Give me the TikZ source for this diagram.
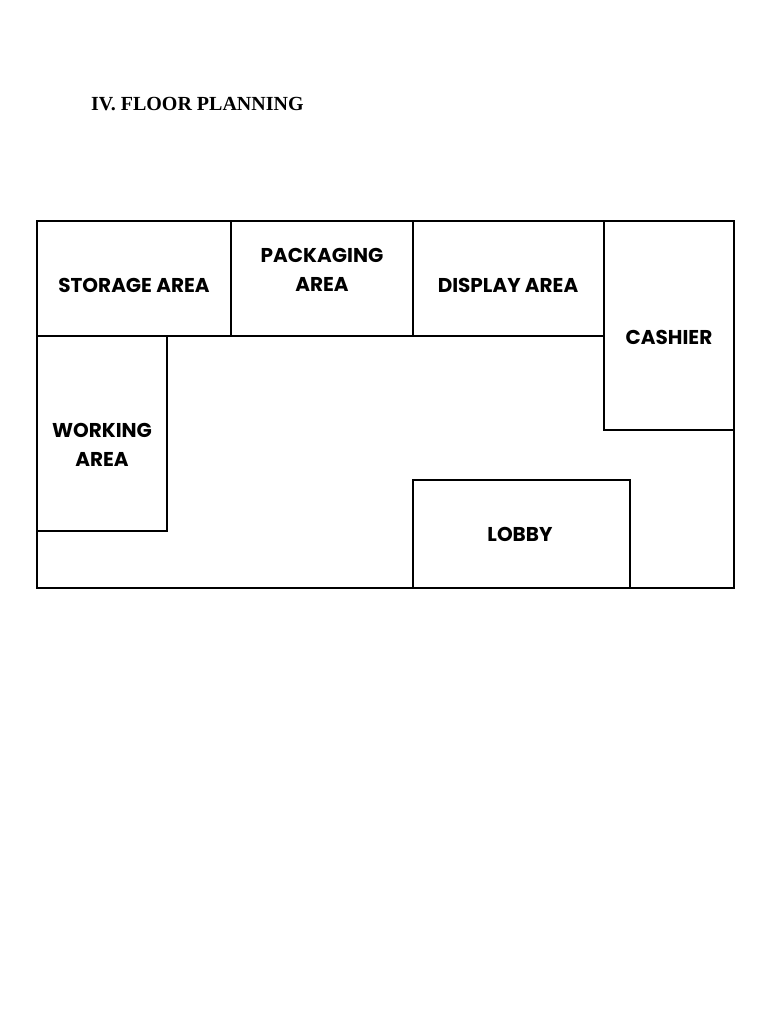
\documentclass[tikz,border=0pt]{standalone}
\usepackage{fontspec}
\setmainfont{Liberation Serif}
\newfontfamily\labfont{Poppins}
\begin{document}
\begin{tikzpicture}[x=1pt,y=-1pt,
  wall/.style={draw=black,line width=2pt},
  lab/.style={font=\labfont\bfseries\fontsize{20}{29}\selectfont,align=center,inner sep=0pt}]
\useasboundingbox (0,0) rectangle (768,1024);
\node[anchor=west,font=\bfseries\fontsize{20}{22}\selectfont,inner sep=0pt] (title) at (91,104) {IV. FLOOR PLANNING};
\draw[wall] (37,221) rectangle (734,588);
\draw[wall] (37,336) -- (604,336);
\draw[wall] (231,221) -- (231,336);
\draw[wall] (413,221) -- (413,336);
\draw[wall] (604,221) -- (604,430) -- (734,430);
\draw[wall] (167,336) -- (167,531) -- (37,531);
\draw[wall] (413,588) -- (413,480) -- (630,480) -- (630,588);
\node[lab] (storage) at (134,285) {STORAGE AREA};
\node[lab] (pack) at (322,270) {PACKAGING\\AREA};
\node[lab] (display) at (508,285) {DISPLAY AREA};
\node[lab] (cashier) at (669,337) {CASHIER};
\node[lab] (working) at (102,445) {WORKING\\AREA};
\node[lab] (lobby) at (520,534) {LOBBY};
\end{tikzpicture}
\end{document}
